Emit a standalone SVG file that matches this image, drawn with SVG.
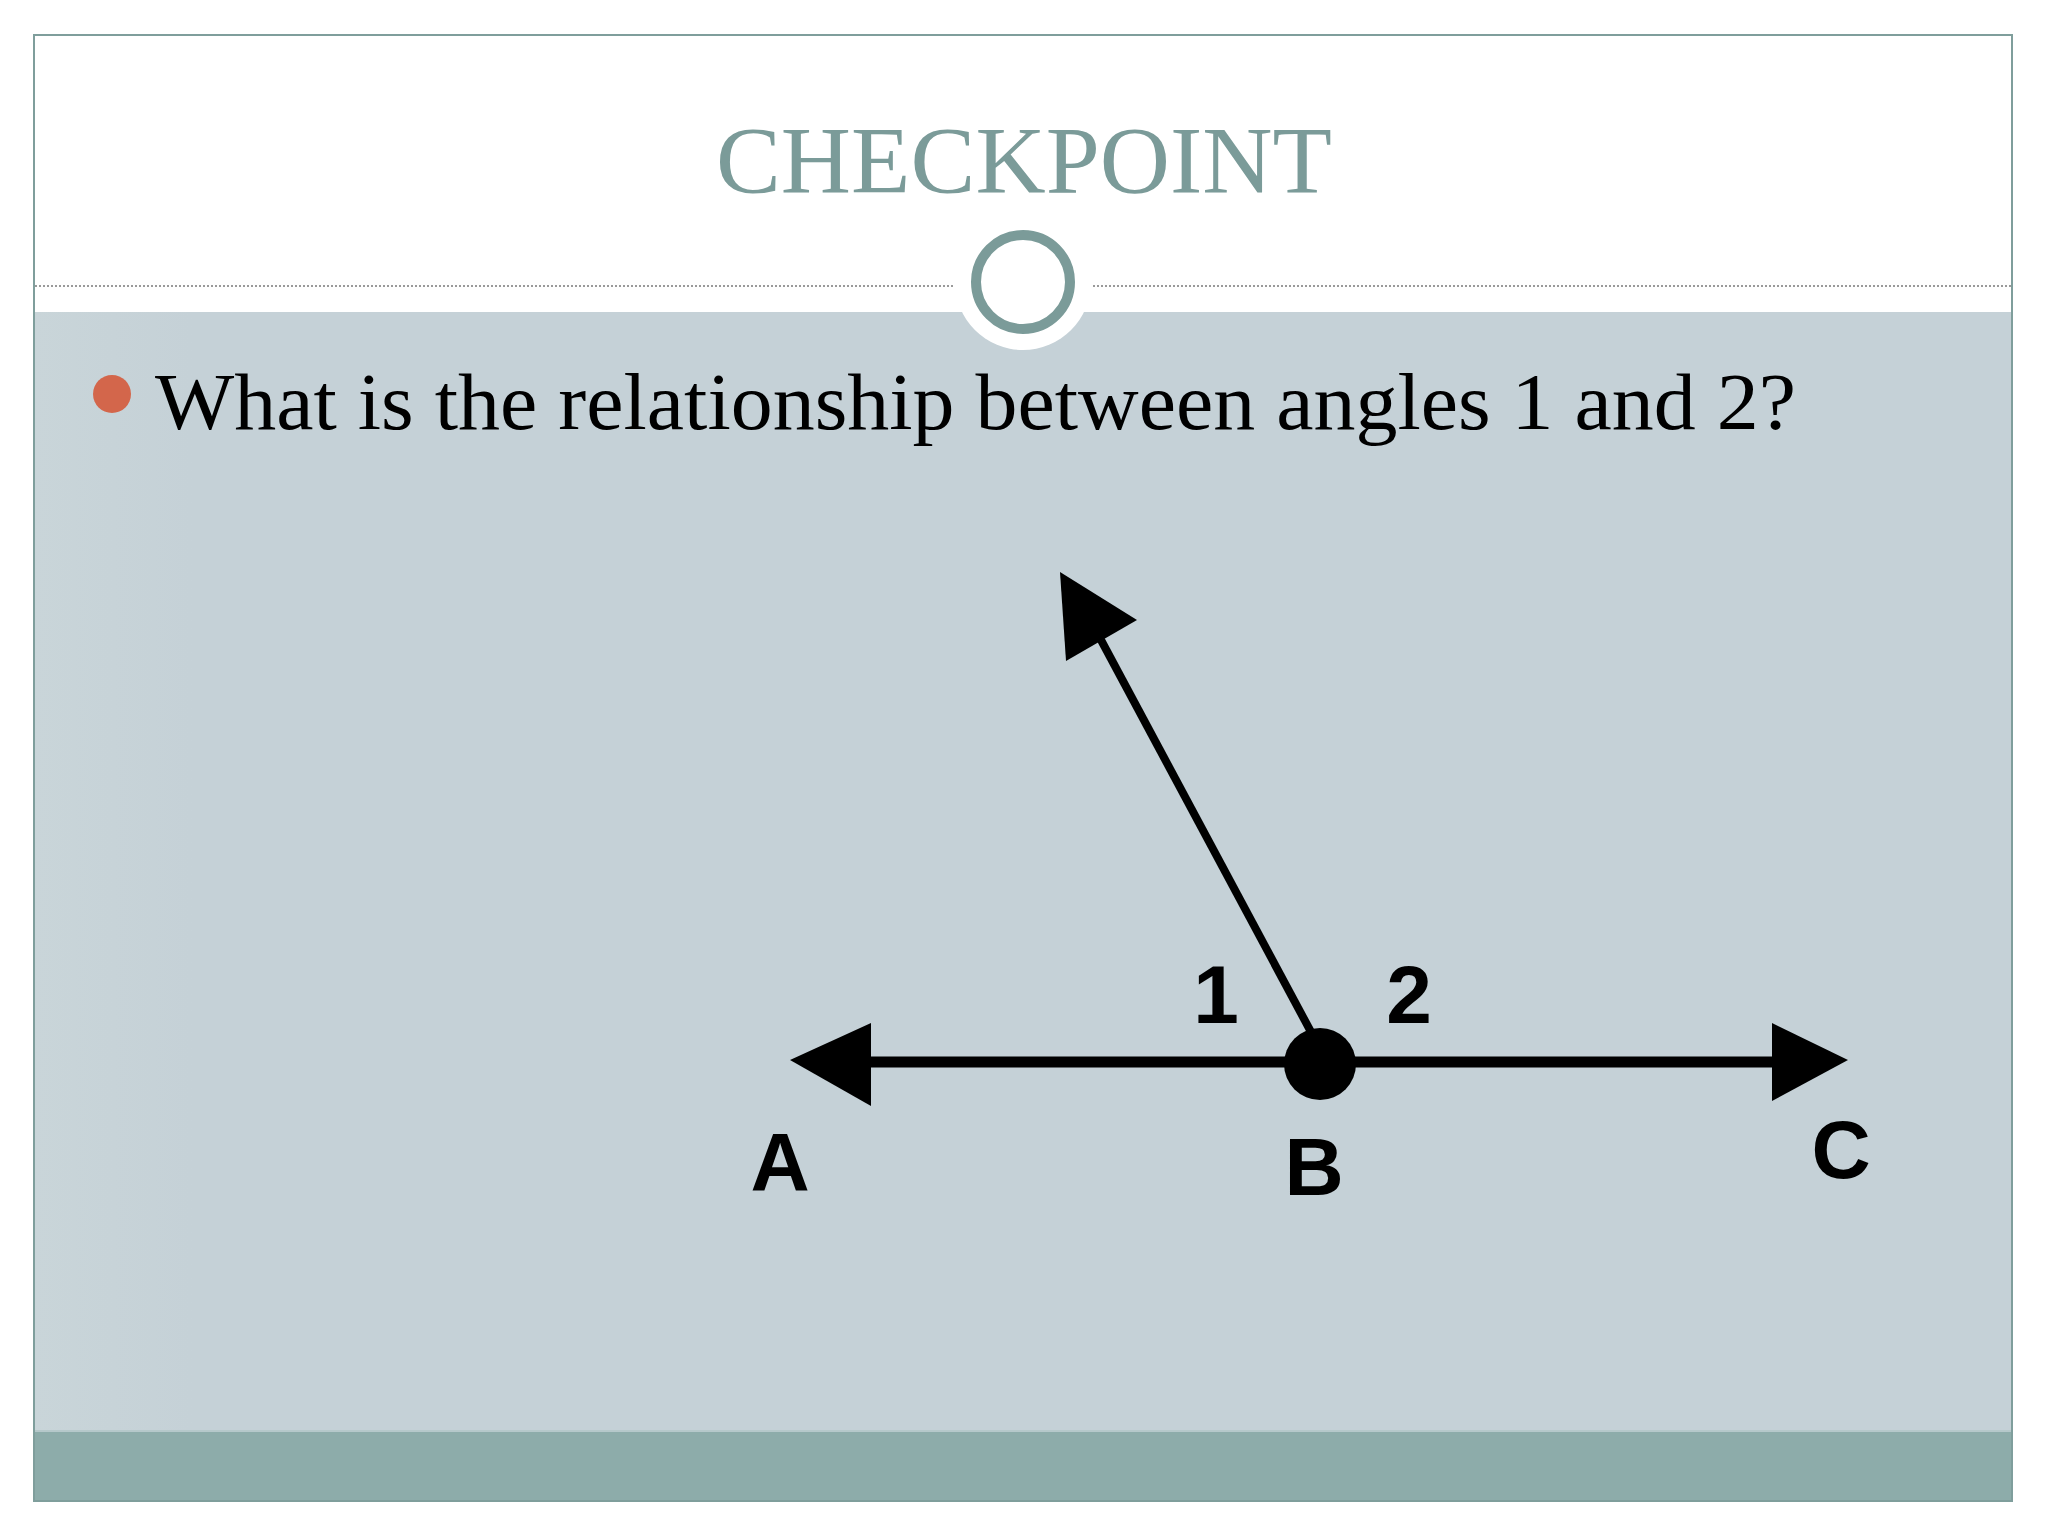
<svg xmlns="http://www.w3.org/2000/svg" width="2048" height="1536" viewBox="0 0 2048 1536">
  <style>
    .title { font-family: Georgia, "Liberation Serif", serif; font-size: 96px; fill: #7B9B99; }
    .body { font-family: Georgia, "Liberation Serif", serif; font-size: 80px; fill: #000000; }
    .lbl { font-family: "Liberation Sans", Arial, sans-serif; font-size: 82px; font-weight: bold; fill: #000000; }
    .ray { stroke: #000000; fill: none; }
  </style>
  <defs>
    <linearGradient id="bg" x1="0" y1="0" x2="1" y2="0">
      <stop offset="0" stop-color="#C9D5D9"/>
      <stop offset="0.08" stop-color="#C5D1D7"/>
      <stop offset="1" stop-color="#C5D1D7"/>
    </linearGradient>
  </defs>
  <rect x="0" y="0" width="2048" height="1536" fill="#FFFFFF"/>
  <g id="slide">
    <rect x="34" y="312" width="1978" height="1119" fill="url(#bg)"/>
    <rect x="34" y="1431" width="1978" height="70" fill="#8DACAA"/>
    <line x1="34" y1="1431" x2="2012" y2="1431" stroke="#B5C8CA" stroke-width="2"/>
    <rect x="34" y="35" width="1978" height="1466" fill="none" stroke="#7F9E9C" stroke-width="2"/>
    <line x1="35" y1="286" x2="955" y2="286" stroke="#9A9A9A" stroke-width="2" stroke-dasharray="2 2"/>
    <line x1="1093" y1="286" x2="2011" y2="286" stroke="#9A9A9A" stroke-width="2" stroke-dasharray="2 2"/>
    <circle cx="1023" cy="282" r="68" fill="#FFFFFF"/>
    <circle cx="1023" cy="282" r="47" fill="#FFFFFF" stroke="#7B9B99" stroke-width="10"/>
  </g>
  <g id="title">
    <text class="title" x="1024" y="193" text-anchor="middle" textLength="616" lengthAdjust="spacingAndGlyphs">CHECKPOINT</text>
  </g>
  <g id="question">
    <circle cx="112" cy="394" r="19" fill="#D3664B"/>
    <text class="body" x="155" y="429" textLength="1641" lengthAdjust="spacingAndGlyphs">What is the relationship between angles 1 and 2?</text>
  </g>
  <g id="connectors">
    <line class="ray" x1="871" y1="1062" x2="1772" y2="1062" stroke-width="11"/>
    <polygon points="790,1060 871,1023 871,1106" fill="#000000"/>
    <polygon points="1848,1060 1772,1023 1772,1101" fill="#000000"/>
    <line class="ray" x1="1318" y1="1045" x2="1101" y2="640" stroke-width="8"/>
    <polygon points="1060,572 1137,620 1066,661" fill="#000000"/>
  </g>
  <g id="pointB">
    <circle cx="1320" cy="1064" r="36" fill="#000000"/>
  </g>
  <g id="labels">
    <text class="lbl" x="1216" y="1023" text-anchor="middle">1</text>
    <text class="lbl" x="1409" y="1023" text-anchor="middle">2</text>
    <text class="lbl" x="780" y="1190" text-anchor="middle">A</text>
    <text class="lbl" x="1314" y="1195" text-anchor="middle">B</text>
    <text class="lbl" x="1841" y="1178" text-anchor="middle">C</text>
  </g>
</svg>
